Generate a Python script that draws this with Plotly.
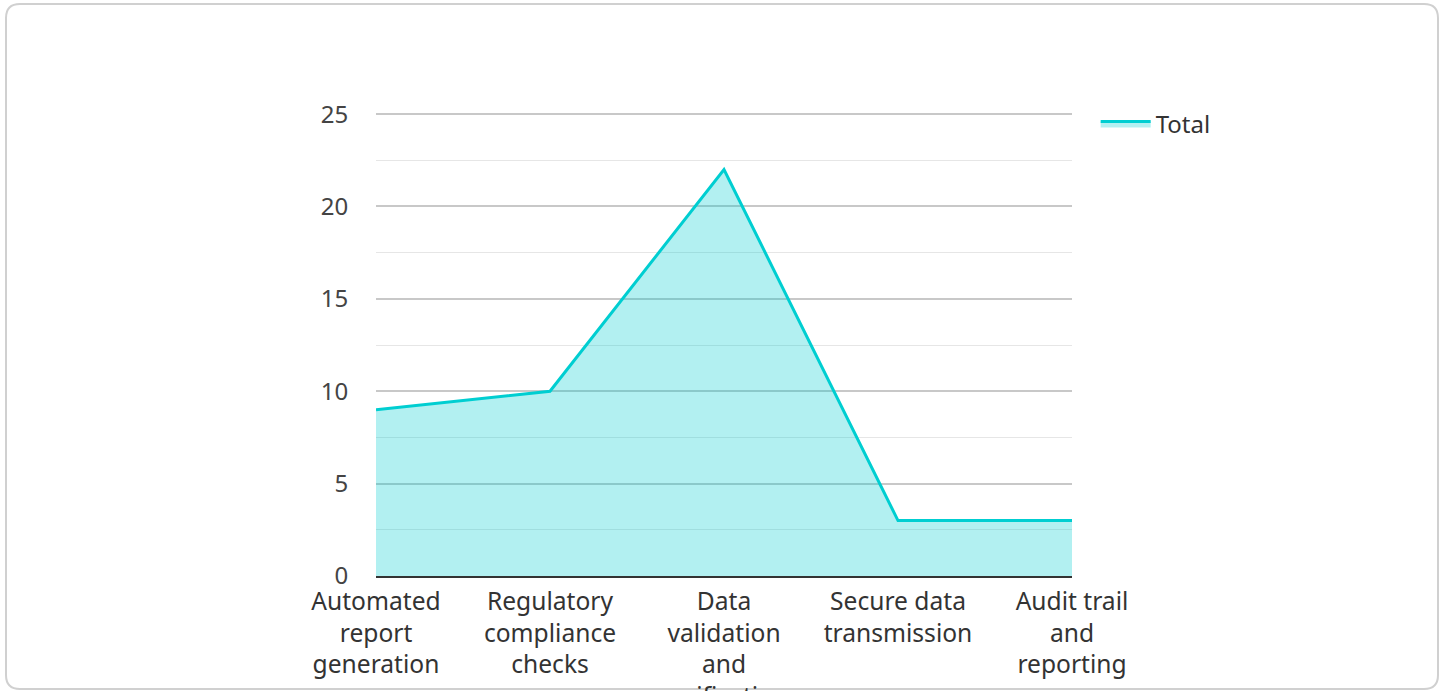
import plotly.graph_objects as go

categories = ["Automated report generation", "Regulatory compliance checks",
              "Data validation and verification", "Secure data transmission",
              "Audit trail and reporting"]
tick_labels = ["Automated<br>report<br>generation", "Regulatory<br>compliance<br>checks",
               "Data<br>validation<br>and<br>verification", "Secure data<br>transmission",
               "Audit trail<br>and<br>reporting"]
total_values = [9, 10, 22, 3, 3]
y_ticks = [0, 5, 10, 15, 20, 25]

W, H = 1445, 691
L, R, T, B = 376, 1072, 113, 576

fig = go.Figure()
fig.add_trace(go.Scatter(
    x=categories, y=total_values, name="Total", mode="lines",
    line=dict(color="#00CED1", width=3),
    fill="tozeroy", fillcolor="rgba(0,206,209,0.3)",
))

def px_x(p):
    return (p - L) / (R - L)

def px_y(p):
    return (B - p) / (B - T)

# rounded card border
x0, y0, x1, y1, r = 6, 4, 1438, 689, 14
path = (f"M{px_x(x0+r)},{px_y(y0)} L{px_x(x1-r)},{px_y(y0)} "
        f"Q{px_x(x1)},{px_y(y0)} {px_x(x1)},{px_y(y0+r)} "
        f"L{px_x(x1)},{px_y(y1-r)} Q{px_x(x1)},{px_y(y1)} {px_x(x1-r)},{px_y(y1)} "
        f"L{px_x(x0+r)},{px_y(y1)} Q{px_x(x0)},{px_y(y1)} {px_x(x0)},{px_y(y1-r)} "
        f"L{px_x(x0)},{px_y(y0+r)} Q{px_x(x0)},{px_y(y0)} {px_x(x0+r)},{px_y(y0)} Z")

fig.update_layout(
    width=W, height=H,
    margin=dict(l=L, r=W - R, t=T, b=H - B, pad=0, autoexpand=False),
    paper_bgcolor="white", plot_bgcolor="white",
    font=dict(family="Noto Sans", size=24, color="#333333"),
    shapes=[dict(type="path", path=path, xref="paper", yref="paper",
                 line=dict(color="#d0d0d0", width=2), layer="below")],
    xaxis=dict(
        range=[0, len(categories) - 1], tickmode="array",
        tickvals=categories, ticktext=tick_labels, automargin=False,
        showgrid=False, zeroline=False,
        showline=True, linecolor="#333333", linewidth=2,
        ticks="outside", ticklen=2, tickcolor="rgba(0,0,0,0)",
        tickfont=dict(size=24.6, color="#333333"),
    ),
    yaxis=dict(
        range=[0, 25.06], tickmode="array", tickvals=y_ticks, automargin=False,
        showgrid=True, gridcolor="#c8c8c8", gridwidth=1.5,
        zeroline=False, showline=False,
        ticks="outside", ticklen=22, tickcolor="rgba(0,0,0,0)",
        tickfont=dict(size=24, color="#444444"),
        minor=dict(dtick=2.5, tick0=0, showgrid=True, gridcolor="#e6e6e6", gridwidth=1),
    ),
    showlegend=True,
    legend=dict(x=1.034, y=1.025, xanchor="left", yanchor="top", itemwidth=50,
                font=dict(size=24, color="#333333"), bgcolor="rgba(0,0,0,0)"),
)

fig.write_html("out.html", config={"displayModeBar": False},
               post_script="document.body.style.margin='0';")
